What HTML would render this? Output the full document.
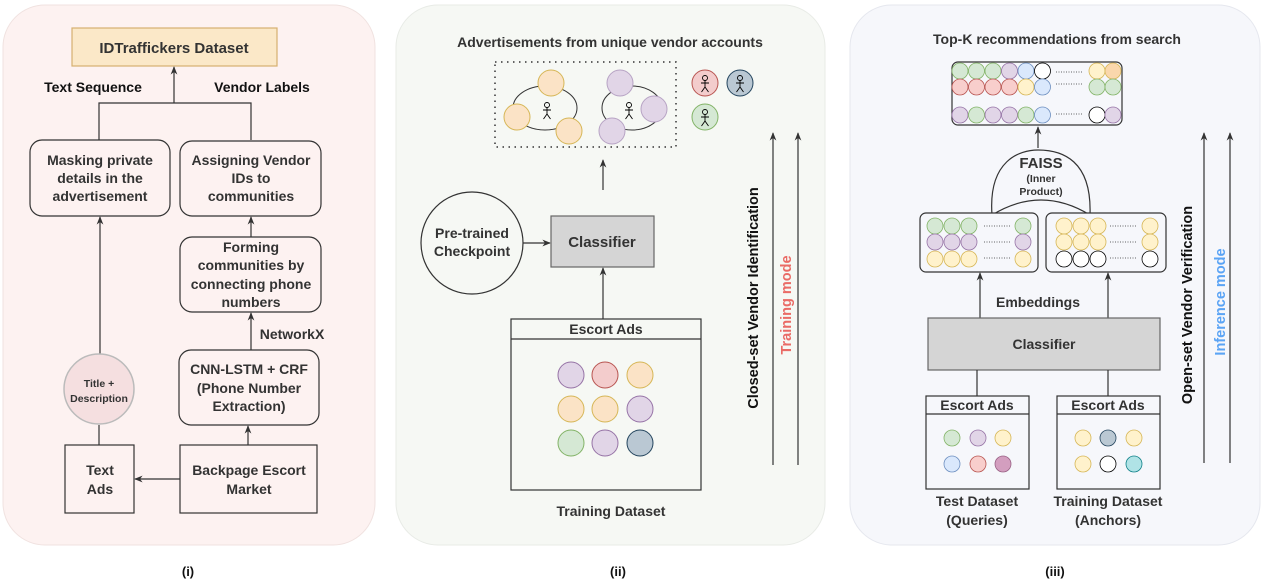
<!DOCTYPE html>
<html><head><meta charset="utf-8"><style>
html,body{margin:0;padding:0;background:#fff;}
svg{display:block;font-family:"Liberation Sans",Arial,sans-serif;}
.t{font-weight:bold;fill:#333;text-anchor:middle;}
</style></head><body>
<svg width="1263" height="580" viewBox="0 0 1263 580" xmlns="http://www.w3.org/2000/svg">
<defs>
<marker id="a" viewBox="0 0 10 10" refX="9" refY="5" markerWidth="7" markerHeight="7" orient="auto-start-reverse"><path d="M0,1 L10,5 L0,9 L3,5 z" fill="#333"/></marker>
<g id="fig" fill="none" stroke="#000" stroke-width="0.9"><circle cx="0" cy="-5" r="2.5"/><path d="M0,-2.5 V4 M-4,0 H4 M0,4 L-3.5,9 M0,4 L3.5,9"/></g>
</defs>
<!-- panels -->
<rect x="3" y="5" width="372" height="540" rx="42" fill="#fdf2f1" stroke="#f0e2e0"/>
<rect x="396" y="5" width="429" height="540" rx="42" fill="#f6f8f4" stroke="#e8ebe6"/>
<rect x="850" y="5" width="410" height="540" rx="42" fill="#f6f7fb" stroke="#e5e7ee"/>

<!-- Panel i -->
<g stroke="#333" stroke-width="1.2" fill="none">
<rect x="72" y="28" width="205" height="38" fill="#fbe8c8" stroke="#d6b070"/>
<path d="M99,140 V103 H251 V140"/>
<path d="M174,103 V67" marker-end="url(#a)"/>
<rect x="30" y="140" width="140" height="76" rx="12" fill="#fdf2f1"/>
<rect x="180" y="141" width="141" height="75" rx="12" fill="#fdf2f1"/>
<rect x="180" y="237" width="141" height="75" rx="12" fill="#fdf2f1"/>
<path d="M251,237 V217" marker-end="url(#a)"/>
<rect x="179" y="350" width="140" height="75" rx="12" fill="#fdf2f1"/>
<path d="M251,350 V313" marker-end="url(#a)"/>
<rect x="180" y="445" width="137" height="68" fill="#fdf2f1"/>
<rect x="65" y="445" width="69" height="68" fill="#fdf2f1"/>
<path d="M180,479 H135" marker-end="url(#a)"/>
<path d="M248,445 V426" marker-end="url(#a)"/>
<path d="M99,445 V425"/>
<path d="M100,354 V217" marker-end="url(#a)"/>
</g>
<circle cx="99" cy="389" r="35" fill="#f5dfe0" stroke="#bbb" stroke-width="1.5"/>
<text class="t" x="174" y="53" font-size="15" fill="#222">IDTraffickers Dataset</text>
<text class="t" x="93" y="92" font-size="14" style="fill:#111">Text Sequence</text>
<text class="t" x="262" y="92" font-size="14" style="fill:#111">Vendor Labels</text>
<text class="t" font-size="14"><tspan x="100" y="165">Masking private</tspan><tspan x="100" y="183">details in the</tspan><tspan x="100" y="201">advertisement</tspan></text>
<text class="t" font-size="14"><tspan x="251" y="165">Assigning Vendor</tspan><tspan x="251" y="183">IDs to</tspan><tspan x="251" y="201">communities</tspan></text>
<text class="t" font-size="14"><tspan x="251" y="252">Forming</tspan><tspan x="251" y="270">communities by</tspan><tspan x="251" y="289">connecting phone</tspan><tspan x="251" y="307">numbers</tspan></text>
<text class="t" x="292" y="339" font-size="14">NetworkX</text>
<text class="t" font-size="14"><tspan x="249" y="374">CNN-LSTM + CRF</tspan><tspan x="249" y="393">(Phone Number</tspan><tspan x="249" y="411">Extraction)</tspan></text>
<text class="t" font-size="14"><tspan x="249" y="475">Backpage Escort</tspan><tspan x="249" y="494">Market</tspan></text>
<text class="t" font-size="14"><tspan x="100" y="475">Text</tspan><tspan x="100" y="494">Ads</tspan></text>
<text class="t" font-size="10.5"><tspan x="99" y="387">Title +</tspan><tspan x="99" y="402">Description</tspan></text>
<text class="t" x="188" y="576" font-size="13" style="fill:#111">(i)</text>

<!-- Panel ii -->
<text class="t" x="610" y="47" font-size="14">Advertisements from unique vendor accounts</text>
<rect x="495" y="62" width="181" height="85" fill="none" stroke="#333" stroke-width="1.5" stroke-dasharray="1.5,4.5"/>
<ellipse cx="545" cy="108" rx="32" ry="22" fill="none" stroke="#333"/>
<ellipse cx="632" cy="108" rx="30" ry="22" fill="none" stroke="#333"/>
<g stroke-width="1"><circle cx="551" cy="83" r="13" fill="#fbe3c6" stroke="#d6b656"/><circle cx="517" cy="117" r="13" fill="#fbe3c6" stroke="#d6b656"/><circle cx="569" cy="131" r="13" fill="#fbe3c6" stroke="#d6b656"/>
<circle cx="620" cy="83" r="13" fill="#e1d5e7" stroke="#b7a3c4"/><circle cx="654" cy="109" r="13" fill="#e1d5e7" stroke="#b7a3c4"/><circle cx="612" cy="131" r="13" fill="#e1d5e7" stroke="#b7a3c4"/>
<circle cx="705" cy="83" r="13" fill="#f3cccc" stroke="#b85450"/><circle cx="740" cy="83" r="13" fill="#bac8d3" stroke="#23445d"/><circle cx="705" cy="117" r="13" fill="#d5e8d4" stroke="#82b366"/></g>
<use href="#fig" x="547" y="110"/><use href="#fig" x="629" y="110"/>
<use href="#fig" x="705" y="83"/><use href="#fig" x="740" y="83"/><use href="#fig" x="705" y="117"/>
<g stroke="#333" stroke-width="1.2" fill="none">
<path d="M603,190 V160" marker-end="url(#a)"/>
<rect x="551" y="216" width="103" height="51" fill="#d5d5d5" stroke="#666"/>
<circle cx="472" cy="243" r="51" fill="#f6f8f4"/>
<path d="M523,243 H550" marker-end="url(#a)"/>
<path d="M603,319 V268" marker-end="url(#a)"/>
<rect x="511" y="319" width="190" height="171" fill="#f6f8f4"/>
<path d="M511,339 H701"/>
<path d="M773,465 V133" marker-end="url(#a)"/>
<path d="M798,465 V133" marker-end="url(#a)"/>
</g>
<text class="t" x="602" y="247" font-size="15">Classifier</text>
<text class="t" font-size="14"><tspan x="472" y="238">Pre-trained</tspan><tspan x="472" y="256">Checkpoint</tspan></text>
<text class="t" x="606" y="334" font-size="14">Escort Ads</text>
<g stroke-width="1">
<circle cx="571" cy="375" r="13" fill="#e1d5e7" stroke="#9673a6"/><circle cx="605" cy="375" r="13" fill="#f3cccc" stroke="#b85450"/><circle cx="640" cy="375" r="13" fill="#fbe3c6" stroke="#d6b656"/>
<circle cx="571" cy="409" r="13" fill="#fbe3c6" stroke="#d6b656"/><circle cx="605" cy="409" r="13" fill="#fbe3c6" stroke="#d6b656"/><circle cx="640" cy="409" r="13" fill="#e1d5e7" stroke="#9673a6"/>
<circle cx="571" cy="443" r="13" fill="#d5e8d4" stroke="#82b366"/><circle cx="605" cy="443" r="13" fill="#e1d5e7" stroke="#9673a6"/><circle cx="640" cy="443" r="13" fill="#bac8d3" stroke="#23445d"/>
</g>
<text class="t" x="611" y="516" font-size="14">Training Dataset</text>
<text class="t" font-size="14.5" style="fill:#111" transform="translate(758,298) rotate(-90)">Closed-set Vendor Identification</text>
<text class="t" font-size="14.5" style="fill:#ea6b66" transform="translate(791,305) rotate(-90)">Training mode</text>
<text class="t" x="618" y="576" font-size="13" style="fill:#111">(ii)</text>

<!-- Panel iii -->
<text class="t" x="1057" y="44" font-size="14">Top-K recommendations from search</text>
<rect x="952" y="62" width="170" height="63" rx="6" fill="#f6f7fb" stroke="#333" stroke-width="1.2"/>
<g stroke-width="0.8">
<circle cx="960" cy="71" r="8" fill="#d5e8d4" stroke="#82b366"/><circle cx="976.5" cy="71" r="8" fill="#d5e8d4" stroke="#82b366"/><circle cx="993" cy="71" r="8" fill="#d5e8d4" stroke="#82b366"/><circle cx="1009.5" cy="71" r="8" fill="#e1d5e7" stroke="#9673a6"/><circle cx="1026" cy="71" r="8" fill="#dae8fc" stroke="#6c8ebf"/><circle cx="1042.5" cy="71" r="8" fill="#fff" stroke="#000"/>
<circle cx="1097" cy="71" r="8" fill="#fff2cc" stroke="#d6b656"/><circle cx="1113" cy="71" r="8" fill="#fad7ac" stroke="#d6b656"/>
<circle cx="960" cy="87" r="8" fill="#f8cecc" stroke="#b85450"/><circle cx="976.5" cy="87" r="8" fill="#f8cecc" stroke="#b85450"/><circle cx="993" cy="87" r="8" fill="#f8cecc" stroke="#b85450"/><circle cx="1009.5" cy="87" r="8" fill="#f8cecc" stroke="#b85450"/><circle cx="1026" cy="87" r="8" fill="#fff2cc" stroke="#d6b656"/><circle cx="1042.5" cy="87" r="8" fill="#dae8fc" stroke="#6c8ebf"/>
<circle cx="1097" cy="87" r="8" fill="#d5e8d4" stroke="#82b366"/><circle cx="1113" cy="87" r="8" fill="#d5e8d4" stroke="#82b366"/>
<circle cx="960" cy="115" r="8" fill="#e1d5e7" stroke="#9673a6"/><circle cx="976.5" cy="115" r="8" fill="#d5e8d4" stroke="#82b366"/><circle cx="993" cy="115" r="8" fill="#e1d5e7" stroke="#9673a6"/><circle cx="1009.5" cy="115" r="8" fill="#e1d5e7" stroke="#9673a6"/><circle cx="1026" cy="115" r="8" fill="#d5e8d4" stroke="#82b366"/><circle cx="1042.5" cy="115" r="8" fill="#dae8fc" stroke="#6c8ebf"/>
<circle cx="1097" cy="115" r="8" fill="#fff" stroke="#000"/><circle cx="1113" cy="115" r="8" fill="#e1d5e7" stroke="#9673a6"/>
</g>
<g stroke="#333" stroke-dasharray="1,1.5" stroke-width="0.8"><path d="M1056,72 H1083 M1056,84 H1083 M1056,114 H1083"/></g>
<g stroke="#333" stroke-width="1.2" fill="none">
<path d="M1038,148 V127" marker-end="url(#a)"/>
<path d="M992,215 C988,160 1020,150 1038,150 C1062,150 1092,160 1090,215"/>
<path d="M992,215 Q1041,185 1090,215"/>
<rect x="920" y="213" width="118" height="59" rx="6" fill="#f6f7fb"/>
<rect x="1046" y="213" width="120" height="59" rx="6" fill="#f6f7fb"/>
<path d="M980,318 V273" marker-end="url(#a)"/>
<path d="M1108,318 V273" marker-end="url(#a)"/>
<rect x="928" y="318" width="232" height="52" fill="#d5d5d5" stroke="#666"/>
<path d="M977,370 V396 M1108,370 V396"/>
<rect x="926" y="396" width="103" height="93" fill="#f6f7fb"/><path d="M926,414 H1029"/>
<rect x="1057" y="396" width="103" height="93" fill="#f6f7fb"/><path d="M1057,414 H1160"/>
<path d="M1204,463 V133" marker-end="url(#a)"/>
<path d="M1230,463 V133" marker-end="url(#a)"/>
</g>
<g stroke-width="0.8">
<circle cx="935" cy="226" r="8" fill="#d5e8d4" stroke="#82b366"/><circle cx="952" cy="226" r="8" fill="#d5e8d4" stroke="#82b366"/><circle cx="969" cy="226" r="8" fill="#d5e8d4" stroke="#82b366"/><circle cx="1023" cy="226" r="8" fill="#d5e8d4" stroke="#82b366"/>
<circle cx="935" cy="242" r="8" fill="#e1d5e7" stroke="#9673a6"/><circle cx="952" cy="242" r="8" fill="#e1d5e7" stroke="#9673a6"/><circle cx="969" cy="242" r="8" fill="#e1d5e7" stroke="#9673a6"/><circle cx="1023" cy="242" r="8" fill="#e1d5e7" stroke="#9673a6"/>
<circle cx="935" cy="259" r="8" fill="#fff2cc" stroke="#d6b656"/><circle cx="952" cy="259" r="8" fill="#fff2cc" stroke="#d6b656"/><circle cx="969" cy="259" r="8" fill="#fff2cc" stroke="#d6b656"/><circle cx="1023" cy="259" r="8" fill="#fff2cc" stroke="#d6b656"/>
<circle cx="1064" cy="226" r="8" fill="#fff2cc" stroke="#d6b656"/><circle cx="1081" cy="226" r="8" fill="#fff2cc" stroke="#d6b656"/><circle cx="1098" cy="226" r="8" fill="#fff2cc" stroke="#d6b656"/><circle cx="1150" cy="226" r="8" fill="#fff2cc" stroke="#d6b656"/>
<circle cx="1064" cy="242" r="8" fill="#fff2cc" stroke="#d6b656"/><circle cx="1081" cy="242" r="8" fill="#fff2cc" stroke="#d6b656"/><circle cx="1098" cy="242" r="8" fill="#fff2cc" stroke="#d6b656"/><circle cx="1150" cy="242" r="8" fill="#fff2cc" stroke="#d6b656"/>
<circle cx="1064" cy="259" r="8" fill="#fff" stroke="#000"/><circle cx="1081" cy="259" r="8" fill="#fff" stroke="#000"/><circle cx="1098" cy="259" r="8" fill="#fff" stroke="#000"/><circle cx="1150" cy="259" r="8" fill="#fff" stroke="#000"/>
</g>
<g stroke="#333" stroke-dasharray="1,1.5" stroke-width="0.8"><path d="M984,226 H1010 M984,242 H1010 M984,258 H1010 M1110,226 H1137 M1110,242 H1137 M1110,258 H1137"/></g>
<g stroke-width="0.8">
<circle cx="952" cy="438" r="8" fill="#d5e8d4" stroke="#82b366"/><circle cx="978" cy="438" r="8" fill="#e1d5e7" stroke="#9673a6"/><circle cx="1003" cy="438" r="8" fill="#fff2cc" stroke="#d6b656"/>
<circle cx="952" cy="464" r="8" fill="#dae8fc" stroke="#6c8ebf"/><circle cx="978" cy="464" r="8" fill="#f8cecc" stroke="#b85450"/><circle cx="1003" cy="464" r="8" fill="#d39ebf" stroke="#996185"/>
<circle cx="1083" cy="438" r="8" fill="#fff2cc" stroke="#d6b656"/><circle cx="1108" cy="438" r="8" fill="#bac8d3" stroke="#23445d"/><circle cx="1134" cy="438" r="8" fill="#fff2cc" stroke="#d6b656"/>
<circle cx="1083" cy="464" r="8" fill="#fff2cc" stroke="#d6b656"/><circle cx="1108" cy="464" r="8" fill="#fff" stroke="#000"/><circle cx="1134" cy="464" r="8" fill="#b0e3e6" stroke="#0e8088"/>
</g>
<text class="t" x="1041" y="168" font-size="15">FAISS</text>
<text class="t" font-size="10.5"><tspan x="1041" y="182">(Inner</tspan><tspan x="1041" y="195">Product)</tspan></text>
<text class="t" x="1038" y="307" font-size="14">Embeddings</text>
<text class="t" x="1044" y="349" font-size="14">Classifier</text>
<text class="t" x="977" y="410" font-size="14">Escort Ads</text>
<text class="t" x="1108" y="410" font-size="14">Escort Ads</text>
<text class="t" font-size="14"><tspan x="977" y="506">Test Dataset</tspan><tspan x="977" y="525">(Queries)</tspan></text>
<text class="t" font-size="14"><tspan x="1108" y="506">Training Dataset</tspan><tspan x="1108" y="525">(Anchors)</tspan></text>
<text class="t" font-size="14.5" style="fill:#111" transform="translate(1192,305) rotate(-90)">Open-set Vendor Verification</text>
<text class="t" font-size="14.5" style="fill:#5ba4f5" transform="translate(1225,302) rotate(-90)">Inference mode</text>
<text class="t" x="1055" y="576" font-size="13" style="fill:#111">(iii)</text>
</svg>
</body></html>
